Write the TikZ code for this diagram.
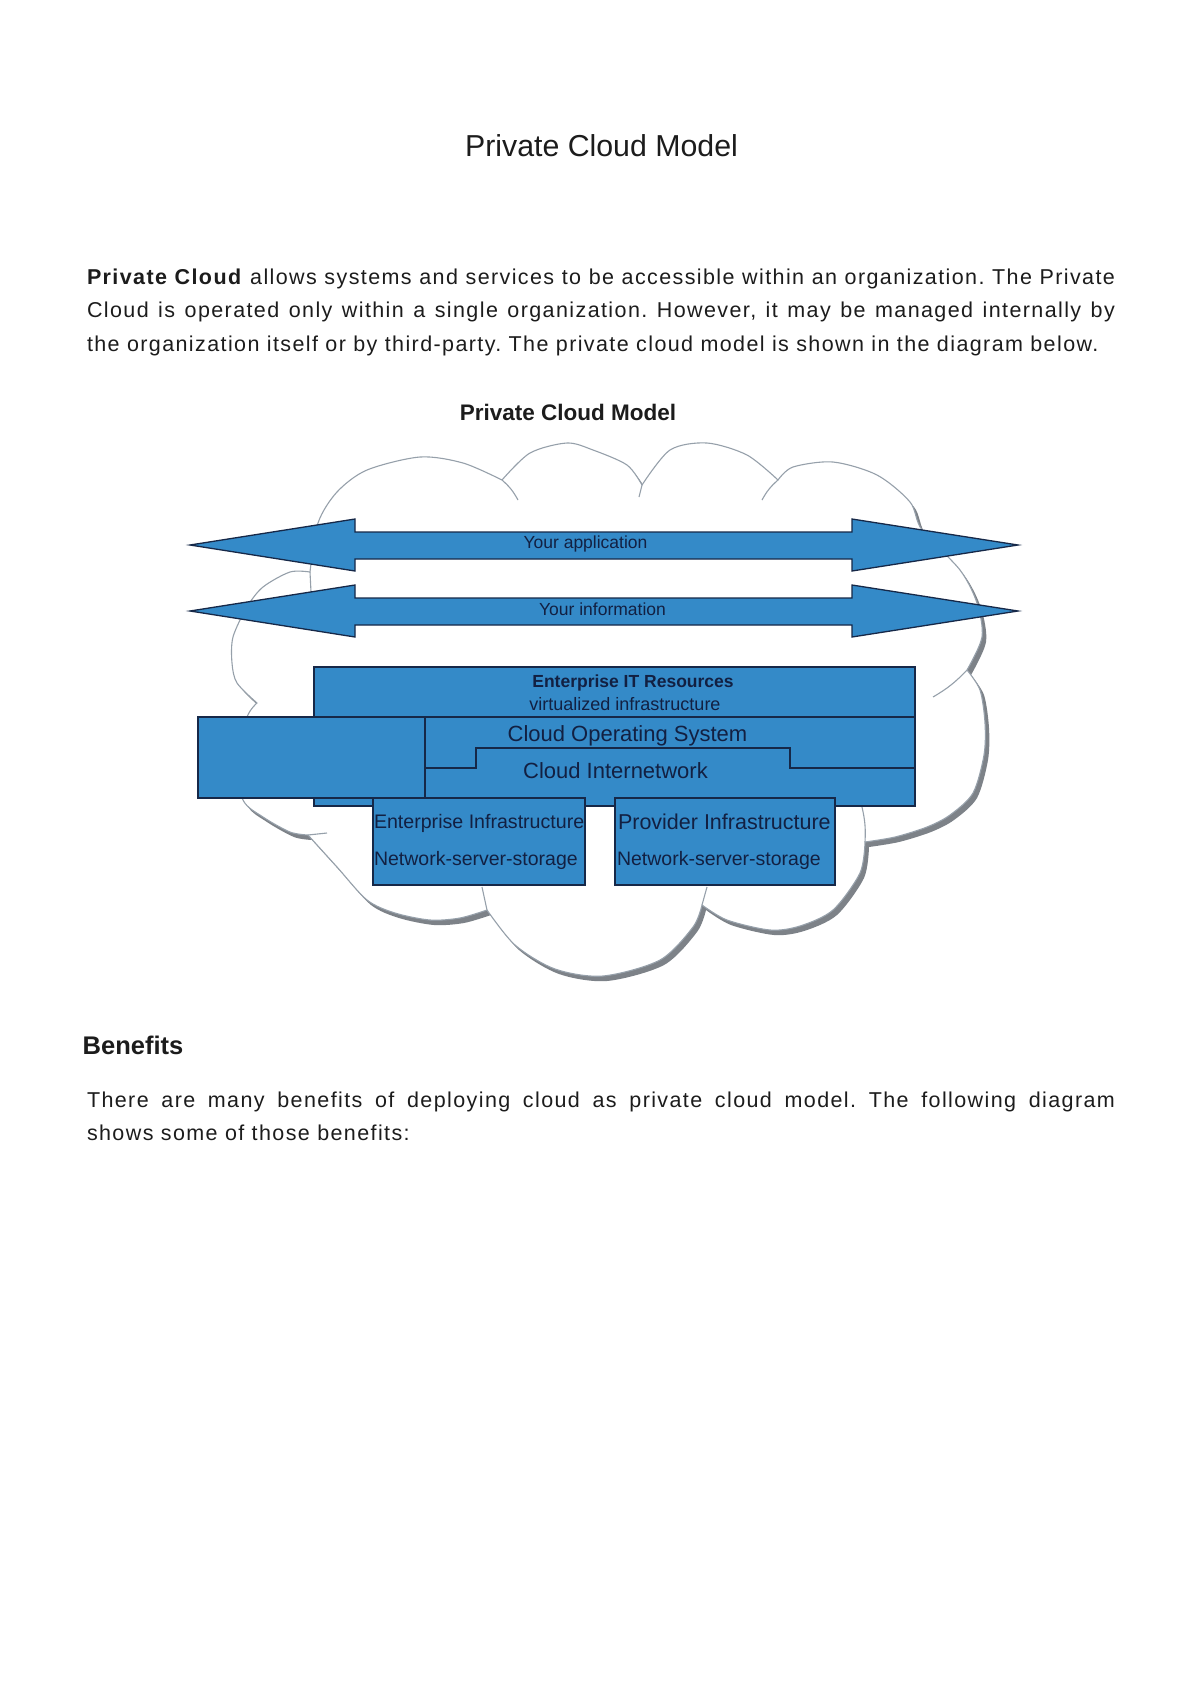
\documentclass[tikz,border=0pt]{standalone}
\usepackage{fontspec}
\setmainfont{Liberation Sans}
\newfontfamily\bodyfont[LetterSpace=6.5]{Liberation Sans}
\definecolor{pagetext}{RGB}{28,28,28}
\definecolor{boxblue}{RGB}{52,138,200}
\definecolor{navy}{RGB}{22,40,72}
\definecolor{navytext}{RGB}{18,32,66}
\definecolor{cloudline}{RGB}{150,160,170}
\definecolor{cloudshadow}{RGB}{125,130,136}
\newcommand\mycloudpath{%
  plot[smooth] coordinates {(310,572) (318,523) (337,492) (367,470) (420,457) (463,463) (502,480)}
  -- plot[smooth] coordinates {(502,480) (530,453) (567,443) (593,450) (627,465) (642,485)}
  -- plot[smooth] coordinates {(642,485) (670,450) (707,443) (747,455) (778,480)}
  -- plot[smooth] coordinates {(778,480) (793,467) (833,462) (877,475) (910,502) (922,530) (960,570) (977,603) (982,637) (967,670)}
  -- plot[smooth] coordinates {(967,670) (980,690) (985,723) (984,755) (973,793) (950,815) (927,827) (895,837) (865,842)}
  -- plot[smooth] coordinates {(865,842) (860,873) (833,910) (800,926) (770,930) (727,920) (702,905)}
  -- plot[smooth] coordinates {(702,905) (693,927) (660,960) (603,976) (555,969) (515,945) (487,910)}
  -- plot[smooth] coordinates {(487,910) (460,918) (430,920) (395,913) (367,900) (337,867) (308,835)}
  -- plot[smooth] coordinates {(308,835) (290,832) (263,817) (243,800) (236,760) (247,717) (257,703)}
  -- plot[smooth] coordinates {(257,703) (237,683) (232,663) (233,637) (247,607) (263,587) (290,572) (310,572)}
  -- cycle}
\newcommand\bodysize{\bodyfont\fontsize{21.5}{25}\selectfont\frenchspacing}
\begin{document}
\begin{tikzpicture}[x=1pt,y=-1pt,
  txt/.style={inner sep=0pt, outer sep=0pt, text=pagetext},
  dtxt/.style={inner sep=0pt, outer sep=0pt, text=navytext},
  bluebox/.style={fill=boxblue, draw=navy, line width=1.5pt},
  blockarrow/.style={fill=boxblue, draw=navy, line width=1.3pt, line join=miter},
  cusptail/.style={draw=cloudline, line width=1.1pt}]
\useasboundingbox (0,0) rectangle (1200,1698);
\fill[white] (0,0) rectangle (1200,1698);

% page title
\node[txt, anchor=base] (title) at (601.5,156) {\fontsize{30.3}{34}\selectfont Private Cloud Model};

% paragraph 1
\node[txt, anchor=base west] (p1a) at (87,284) {\makebox[1028pt][s]{\bodysize \textbf{Private Cloud} allows systems and services to be accessible within an organization. The Private}};
\node[txt, anchor=base west] (p1b) at (87,317.5) {\makebox[1028pt][s]{\bodysize Cloud is operated only within a single organization. However, it may be managed internally by}};
\node[txt, anchor=base west] (p1c) at (87,351) {\bodysize the organization itself or by third-party. The private cloud model is shown in the diagram below.};

% diagram title
\node[txt, anchor=base] (dtitle) at (568,420.7) {\fontsize{22.5}{26}\selectfont\bfseries Private Cloud Model};

% cloud shadow and cloud
\begin{scope}[shift={(4,5)}]
\fill[cloudshadow] \mycloudpath;
\end{scope}
\path[fill=white, draw=cloudline, line width=1.1pt, line join=round] \mycloudpath;

% cusp tails
\coordinate (t1a) at (502,480); \coordinate (t1b) at (518,500);
\coordinate (t2a) at (642,485); \coordinate (t2b) at (639,497);
\coordinate (t3a) at (778,480); \coordinate (t3b) at (762,500);
\coordinate (t5a) at (967,670); \coordinate (t5b) at (933,697);
\coordinate (t6a) at (865,842); \coordinate (t6b) at (862,807);
\coordinate (t7a) at (702,905); \coordinate (t7b) at (707,887);
\coordinate (t8a) at (487,910); \coordinate (t8b) at (482,887);
\coordinate (t9a) at (308,835); \coordinate (t9b) at (327,833);
\coordinate (t0a) at (310,572); \coordinate (t0b) at (311,592);
\draw[cusptail] (t1a) to[bend left=10] (t1b);
\draw[cusptail] (t2a) -- (t2b);
\draw[cusptail] (t3a) to[bend right=10] (t3b);
\draw[cusptail] (t5a) to[bend left=8] (t5b);
\draw[cusptail] (t6a) to[bend right=8] (t6b);
\draw[cusptail] (t7a) -- (t7b);
\draw[cusptail] (t8a) -- (t8b);
\draw[cusptail] (t9a) -- (t9b);
\draw[cusptail] (t0a) -- (t0b);

% block arrows
\draw[blockarrow] (190,545) -- (355,519) -- (355,532) -- (852,532) -- (852,519) -- (1018,545)
  -- (852,571) -- (852,559) -- (355,559) -- (355,571) -- cycle;
\draw[blockarrow] (190,611) -- (355,585) -- (355,598) -- (852,598) -- (852,585) -- (1018,611)
  -- (852,637) -- (852,625) -- (355,625) -- (355,637) -- cycle;
\node[dtxt, anchor=base] (app) at (585.5,548.3) {\fontsize{17.5}{20}\selectfont Your application};
\node[dtxt, anchor=base] (info) at (602.5,615) {\fontsize{17.5}{20}\selectfont Your information};

% boxes
\draw[bluebox] (314,667) rectangle (915,806);
\coordinate (cosL) at (425,717); \coordinate (cosR) at (915,717);
\draw[navy, line width=1.5pt] (cosL) -- (cosR);
\draw[bluebox] (198,717) rectangle (425,798);
\coordinate (s0) at (425,768); \coordinate (s1) at (476,768); \coordinate (s2) at (476,748);
\coordinate (s3) at (790,748); \coordinate (s4) at (790,768); \coordinate (s5) at (915,768);
\draw[navy, line width=1.5pt] (s0) -- (s1) -- (s2) -- (s3) -- (s4) -- (s5);
\draw[bluebox] (373,798) rectangle (585,885);
\draw[bluebox] (615,798) rectangle (835,885);

\node[dtxt, anchor=base] (eit) at (633,687.3) {\fontsize{17.5}{20}\selectfont\bfseries Enterprise IT Resources};
\node[dtxt, anchor=base] (virt) at (625,710) {\fontsize{18}{20}\selectfont virtualized infrastructure};
\node[dtxt, anchor=base] (cos) at (627.5,741.7) {\fontsize{22}{24}\selectfont Cloud Operating System};
\node[dtxt, anchor=base] (cin) at (615.5,778.3) {\fontsize{22}{24}\selectfont Cloud Internetwork};
\node[dtxt, anchor=base west] (ent1) at (374,828.5) {\fontsize{19.6}{22}\selectfont Enterprise Infrastructure};
\node[dtxt, anchor=base west] (ent2) at (374,865) {\fontsize{19.5}{22}\selectfont Network-server-storage};
\node[dtxt, anchor=base west] (prov1) at (618,829.5) {\fontsize{21.5}{24}\selectfont Provider Infrastructure};
\node[dtxt, anchor=base west] (prov2) at (617,865) {\fontsize{19.5}{22}\selectfont Network-server-storage};

% Benefits
\node[txt, anchor=base west] (ben) at (82.7,1054) {\fontsize{25.5}{30}\selectfont\bfseries Benefits};
\node[txt, anchor=base west] (p2a) at (87,1107) {\makebox[1028pt][s]{\bodysize There are many benefits of deploying cloud as private cloud model. The following diagram}};
\node[txt, anchor=base west] (p2b) at (87,1140.5) {\bodysize shows some of those benefits:};
\end{tikzpicture}
\end{document}
